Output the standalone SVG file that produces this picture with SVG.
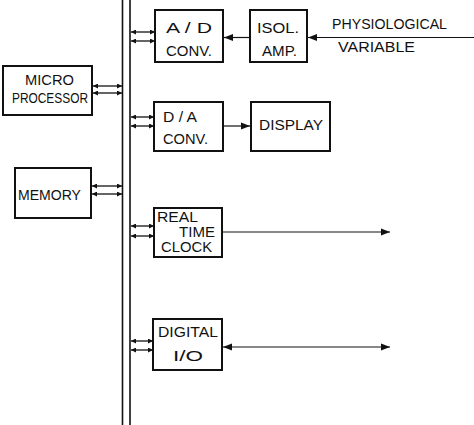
<svg xmlns="http://www.w3.org/2000/svg" width="474" height="425" viewBox="0 0 474 425">
<defs>
<marker id="ah" viewBox="0 0 10 10" refX="10" refY="5" markerWidth="9" markerHeight="9" markerUnits="userSpaceOnUse" orient="auto-start-reverse"><path d="M0,1 L10,5 L0,9 z" fill="#111"/></marker>
<marker id="sm" viewBox="0 0 10 10" refX="10" refY="5" markerWidth="6" markerHeight="5" markerUnits="userSpaceOnUse" orient="auto-start-reverse"><path d="M0,0 L10,5 L0,10 z" fill="#111"/></marker>
</defs>
<style>
.box{fill:#fff;stroke:#111;stroke-width:2}
.t{font-family:"Liberation Sans",Arial,sans-serif;font-size:14px;fill:#111}
.bus{stroke:#111;stroke-width:1.6;fill:none}
.c{stroke:#111;stroke-width:1.2;fill:none}
.lk{stroke:#111;stroke-width:1.3;fill:none;marker-start:url(#sm);marker-end:url(#sm)}
</style>
<rect width="474" height="425" fill="#fff"/>
<g id="connectors">
<line class="bus" x1="122.5" y1="0" x2="122.5" y2="425"/>
<line class="bus" x1="130" y1="0" x2="130" y2="425"/>
<line class="lk" x1="93" y1="86" x2="122" y2="86"/>
<line class="lk" x1="93" y1="93" x2="122" y2="93"/>
<line class="lk" x1="92" y1="186" x2="122" y2="186"/>
<line class="lk" x1="92" y1="194" x2="122" y2="194"/>
<line class="lk" x1="131" y1="32" x2="155" y2="32"/>
<line class="lk" x1="131" y1="41" x2="155" y2="41"/>
<line class="lk" x1="131" y1="117" x2="154" y2="117"/>
<line class="lk" x1="131" y1="126" x2="154" y2="126"/>
<line class="lk" x1="131" y1="226" x2="154" y2="226"/>
<line class="lk" x1="131" y1="236" x2="154" y2="236"/>
<line class="lk" x1="131" y1="341" x2="153" y2="341"/>
<line class="lk" x1="131" y1="350" x2="153" y2="350"/>
<line class="c" x1="250" y1="37.5" x2="224" y2="37.5" marker-end="url(#ah)"/>
<line class="c" x1="474" y1="37.5" x2="308" y2="37.5" marker-end="url(#ah)"/>
<line class="c" x1="223" y1="126" x2="250" y2="126" marker-end="url(#ah)"/>
<line class="c" x1="223" y1="232" x2="390" y2="232" marker-end="url(#ah)"/>
<line class="c" x1="223" y1="347" x2="390" y2="347" marker-start="url(#ah)" marker-end="url(#ah)"/>
</g>
<g id="micro">
<rect class="box" x="3" y="66" width="89" height="49"/>
<text class="t" x="25" y="85" font-size="12" textLength="49" lengthAdjust="spacingAndGlyphs">MICRO</text>
<text class="t" x="12" y="103" font-size="12" textLength="76" lengthAdjust="spacingAndGlyphs">PROCESSOR</text>
</g>
<g id="memory">
<rect class="box" x="15" y="168" width="76" height="50"/>
<text class="t" x="18" y="200" font-size="15" textLength="63" lengthAdjust="spacingAndGlyphs">MEMORY</text>
</g>
<g id="adconv">
<rect class="box" x="155" y="10" width="68" height="52"/>
<text class="t" x="166" y="33" textLength="46" lengthAdjust="spacingAndGlyphs">A / D</text>
<text class="t" x="166" y="55.5" font-size="12.5" textLength="46" lengthAdjust="spacingAndGlyphs">CONV.</text>
</g>
<g id="isolamp">
<rect class="box" x="250" y="10" width="57" height="52"/>
<text class="t" x="257" y="33" textLength="42" lengthAdjust="spacingAndGlyphs">ISOL.</text>
<text class="t" x="262" y="56" font-size="13" textLength="35" lengthAdjust="spacingAndGlyphs">AMP.</text>
</g>
<g id="physio">
<text class="t" x="332" y="29" font-size="12" textLength="115" lengthAdjust="spacingAndGlyphs">PHYSIOLOGICAL</text>
<text class="t" x="338" y="51.5" font-size="13" textLength="77" lengthAdjust="spacingAndGlyphs">VARIABLE</text>
</g>
<g id="daconv">
<rect class="box" x="154" y="102" width="69" height="49"/>
<text class="t" x="163" y="122" textLength="34" lengthAdjust="spacingAndGlyphs">D / A</text>
<text class="t" x="163" y="144" textLength="45" lengthAdjust="spacingAndGlyphs">CONV.</text>
</g>
<g id="display">
<rect class="box" x="251" y="102" width="79" height="49"/>
<text class="t" x="259" y="130" textLength="64" lengthAdjust="spacingAndGlyphs">DISPLAY</text>
</g>
<g id="rtc">
<rect class="box" x="154" y="208" width="68" height="49"/>
<text class="t" x="157" y="222" font-size="13" textLength="41" lengthAdjust="spacingAndGlyphs">REAL</text>
<text class="t" x="179" y="237" textLength="36" lengthAdjust="spacingAndGlyphs">TIME</text>
<text class="t" x="161" y="252" textLength="51" lengthAdjust="spacingAndGlyphs">CLOCK</text>
</g>
<g id="dio">
<rect class="box" x="153" y="319" width="69" height="51"/>
<text class="t" x="158" y="337" textLength="60" lengthAdjust="spacingAndGlyphs">DIGITAL</text>
<text class="t" x="173" y="361" font-size="15" textLength="30" lengthAdjust="spacingAndGlyphs">I/O</text>
</g>
</svg>
